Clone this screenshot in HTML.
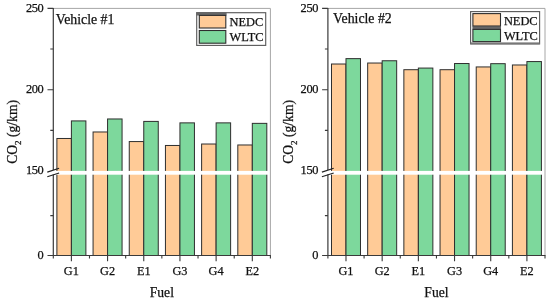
<!DOCTYPE html>
<html><head><meta charset="utf-8"><title>CO2 by fuel</title>
<style>
html,body{margin:0;padding:0;background:#fff;}
body{width:550px;height:302px;overflow:hidden;}
svg{display:block;}
text{font-family:"Liberation Serif","DejaVu Serif",serif;fill:#111;stroke:#111;stroke-width:0.25;}
</style></head><body>
<svg width="550" height="302" viewBox="0 0 550 302">
<rect width="550" height="302" fill="#fff"/>
<g transform="translate(0,0)">
<rect x="56.89" y="138.48" width="14.50" height="117.02" fill="#FFCB97" stroke="#2e2e2e" stroke-width="1"/>
<rect x="71.39" y="120.92" width="14.50" height="134.58" fill="#7DD89C" stroke="#2e2e2e" stroke-width="1"/>
<rect x="93.07" y="131.98" width="14.50" height="123.52" fill="#FFCB97" stroke="#2e2e2e" stroke-width="1"/>
<rect x="107.57" y="118.97" width="14.50" height="136.53" fill="#7DD89C" stroke="#2e2e2e" stroke-width="1"/>
<rect x="129.26" y="141.57" width="14.50" height="113.93" fill="#FFCB97" stroke="#2e2e2e" stroke-width="1"/>
<rect x="143.76" y="121.41" width="14.50" height="134.09" fill="#7DD89C" stroke="#2e2e2e" stroke-width="1"/>
<rect x="165.44" y="145.47" width="14.50" height="110.03" fill="#FFCB97" stroke="#2e2e2e" stroke-width="1"/>
<rect x="179.94" y="122.87" width="14.50" height="132.63" fill="#7DD89C" stroke="#2e2e2e" stroke-width="1"/>
<rect x="201.62" y="144.01" width="14.50" height="111.49" fill="#FFCB97" stroke="#2e2e2e" stroke-width="1"/>
<rect x="216.12" y="122.87" width="14.50" height="132.63" fill="#7DD89C" stroke="#2e2e2e" stroke-width="1"/>
<rect x="237.81" y="144.98" width="14.50" height="110.52" fill="#FFCB97" stroke="#2e2e2e" stroke-width="1"/>
<rect x="252.31" y="123.36" width="14.50" height="132.14" fill="#7DD89C" stroke="#2e2e2e" stroke-width="1"/>
<rect x="52.30" y="170.9" width="217.50" height="3.8" fill="#fff"/>
<path d="M53.3 8.4H270.4V255.5" fill="none" stroke="#a6a6a6" stroke-width="1"/>
<path d="M53.3 7.9V170 M53.3 174.4V255.5 M52.699999999999996 255.5H270.9" fill="none" stroke="#3a3a3a" stroke-width="1.2"/>
<path d="M47.3 172.1L59.1 168.3M47.3 176.8L59.1 173.0" fill="none" stroke="#222" stroke-width="1.2"/>
<path d="M47.5 8.40H53.3M47.5 89.70H53.3M47.5 255.5H53.3M50.3 49.05H53.3M50.3 130.35H53.3M50.3 215.6H53.3M71.39 255.5V261.3M107.57 255.5V261.3M143.76 255.5V261.3M179.94 255.5V261.3M216.12 255.5V261.3M252.31 255.5V261.3M53.30 255.5V258.6M89.48 255.5V258.6M125.67 255.5V258.6M161.85 255.5V258.6M198.03 255.5V258.6M234.22 255.5V258.6M270.40 255.5V258.6" fill="none" stroke="#3a3a3a" stroke-width="1.1"/>
<text x="43.4" y="11.85" text-anchor="end" font-size="12.4" letter-spacing="-0.4">250</text>
<text x="43.4" y="93.15" text-anchor="end" font-size="12.4" letter-spacing="-0.4">200</text>
<text x="43.4" y="174.05" text-anchor="end" font-size="12.4" letter-spacing="-0.4">150</text>
<text x="43.4" y="258.95" text-anchor="end" font-size="12.4" letter-spacing="-0.4">0</text>
<text x="71.39" y="275.0" text-anchor="middle" font-size="12.3">G1</text>
<text x="107.57" y="275.0" text-anchor="middle" font-size="12.3">G2</text>
<text x="143.76" y="275.0" text-anchor="middle" font-size="12.3">E1</text>
<text x="179.94" y="275.0" text-anchor="middle" font-size="12.3">G3</text>
<text x="216.12" y="275.0" text-anchor="middle" font-size="12.3">G4</text>
<text x="252.31" y="275.0" text-anchor="middle" font-size="12.3">E2</text>
<text x="161.85" y="296.8" text-anchor="middle" font-size="13.6">Fuel</text>
<text transform="translate(17.3,131.9) rotate(-90)" text-anchor="middle" font-size="13.6" stroke-width="0.12">CO<tspan font-size="9" dy="4">2</tspan><tspan dy="-4"> (g/km)</tspan></text>
<text x="55.8" y="23.5" font-size="13.8">Vehicle #1</text>
<rect x="196.7" y="12.7" width="69" height="32.7" fill="#fff" stroke="#5c5c5c" stroke-width="1.15"/>
<rect x="196.3" y="12.3" width="30.3" height="3.2" fill="#666"/>
<rect x="199.3" y="15.4" width="26.5" height="12.6" fill="#FFCB97" stroke="#2e2e2e" stroke-width="1.1"/>
<rect x="199.3" y="30.5" width="26.5" height="12.7" fill="#7DD89C" stroke="#2e2e2e" stroke-width="1.1"/>
<text x="229.6" y="25.6" font-size="12.4">NEDC</text>
<text x="229.6" y="40.6" font-size="12.4">WLTC</text>
</g>
</g>
<g transform="translate(274.6,0)">
<rect x="56.89" y="64.01" width="14.50" height="191.49" fill="#FFCB97" stroke="#2e2e2e" stroke-width="1"/>
<rect x="71.39" y="58.64" width="14.50" height="196.86" fill="#7DD89C" stroke="#2e2e2e" stroke-width="1"/>
<rect x="93.07" y="63.03" width="14.50" height="192.47" fill="#FFCB97" stroke="#2e2e2e" stroke-width="1"/>
<rect x="107.57" y="60.76" width="14.50" height="194.74" fill="#7DD89C" stroke="#2e2e2e" stroke-width="1"/>
<rect x="129.26" y="69.70" width="14.50" height="185.80" fill="#FFCB97" stroke="#2e2e2e" stroke-width="1"/>
<rect x="143.76" y="68.07" width="14.50" height="187.43" fill="#7DD89C" stroke="#2e2e2e" stroke-width="1"/>
<rect x="165.44" y="69.70" width="14.50" height="185.80" fill="#FFCB97" stroke="#2e2e2e" stroke-width="1"/>
<rect x="179.94" y="63.52" width="14.50" height="191.98" fill="#7DD89C" stroke="#2e2e2e" stroke-width="1"/>
<rect x="201.62" y="66.94" width="14.50" height="188.56" fill="#FFCB97" stroke="#2e2e2e" stroke-width="1"/>
<rect x="216.12" y="63.68" width="14.50" height="191.82" fill="#7DD89C" stroke="#2e2e2e" stroke-width="1"/>
<rect x="237.81" y="64.98" width="14.50" height="190.52" fill="#FFCB97" stroke="#2e2e2e" stroke-width="1"/>
<rect x="252.31" y="61.57" width="14.50" height="193.93" fill="#7DD89C" stroke="#2e2e2e" stroke-width="1"/>
<rect x="52.30" y="170.9" width="217.50" height="3.8" fill="#fff"/>
<path d="M53.3 8.4H270.4V255.5" fill="none" stroke="#a6a6a6" stroke-width="1"/>
<path d="M53.3 7.9V170 M53.3 174.4V255.5 M52.699999999999996 255.5H270.9" fill="none" stroke="#3a3a3a" stroke-width="1.2"/>
<path d="M47.3 172.1L59.1 168.3M47.3 176.8L59.1 173.0" fill="none" stroke="#222" stroke-width="1.2"/>
<path d="M47.5 8.40H53.3M47.5 89.70H53.3M47.5 255.5H53.3M50.3 49.05H53.3M50.3 130.35H53.3M50.3 215.6H53.3M71.39 255.5V261.3M107.57 255.5V261.3M143.76 255.5V261.3M179.94 255.5V261.3M216.12 255.5V261.3M252.31 255.5V261.3M53.30 255.5V258.6M89.48 255.5V258.6M125.67 255.5V258.6M161.85 255.5V258.6M198.03 255.5V258.6M234.22 255.5V258.6M270.40 255.5V258.6" fill="none" stroke="#3a3a3a" stroke-width="1.1"/>
<text x="43.4" y="11.85" text-anchor="end" font-size="12.4" letter-spacing="-0.4">250</text>
<text x="43.4" y="93.15" text-anchor="end" font-size="12.4" letter-spacing="-0.4">200</text>
<text x="43.4" y="174.05" text-anchor="end" font-size="12.4" letter-spacing="-0.4">150</text>
<text x="43.4" y="258.95" text-anchor="end" font-size="12.4" letter-spacing="-0.4">0</text>
<text x="71.39" y="275.0" text-anchor="middle" font-size="12.3">G1</text>
<text x="107.57" y="275.0" text-anchor="middle" font-size="12.3">G2</text>
<text x="143.76" y="275.0" text-anchor="middle" font-size="12.3">E1</text>
<text x="179.94" y="275.0" text-anchor="middle" font-size="12.3">G3</text>
<text x="216.12" y="275.0" text-anchor="middle" font-size="12.3">G4</text>
<text x="252.31" y="275.0" text-anchor="middle" font-size="12.3">E2</text>
<text x="161.85" y="296.8" text-anchor="middle" font-size="13.6">Fuel</text>
<text transform="translate(17.9,131.9) rotate(-90)" text-anchor="middle" font-size="13.6" stroke-width="0.12">CO<tspan font-size="9" dy="4">2</tspan><tspan dy="-4"> (g/km)</tspan></text>
<text x="58.5" y="23.2" font-size="13.8">Vehicle #2</text>
<rect x="196.0" y="11.6" width="69" height="32.3" fill="#fff" stroke="#5c5c5c" stroke-width="1.15"/>
<rect x="196.0" y="42.4" width="69" height="1.9" fill="#777"/>
<rect x="197.8" y="26.2" width="28.6" height="3.2" fill="#666"/>
<rect x="198.3" y="13.6" width="27.6" height="12.4" fill="#FFCB97" stroke="#2e2e2e" stroke-width="1.1"/>
<rect x="198.3" y="29.4" width="27.6" height="12.2" fill="#7DD89C" stroke="#2e2e2e" stroke-width="1.1"/>
<text x="229.3" y="24.5" font-size="12.4">NEDC</text>
<text x="229.3" y="39.5" font-size="12.4">WLTC</text>
</g>
</g>
</svg>
</body></html>
